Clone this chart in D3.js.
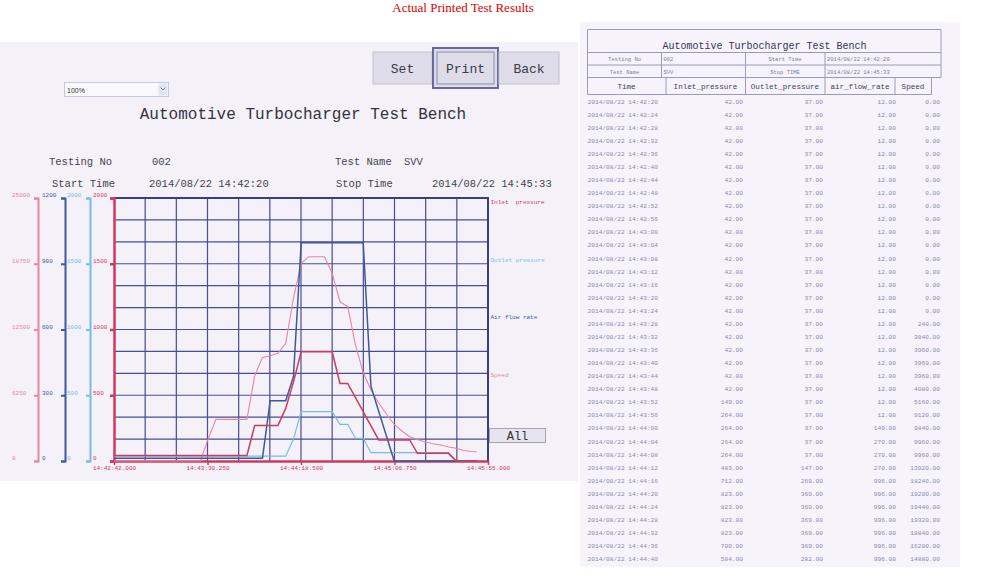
<!DOCTYPE html>
<html lang="en">

<head>
    <meta charset="UTF-8" />
    <title>Automotive Turbocharger Test Bench</title>
    <script src="https://cdn.jsdelivr.net/npm/d3@7"></script>
    <style>
        body { margin: 0; background: #fff; }
        svg { display: block; }
    </style>
</head>

<body>
<script>
    // ---- header info ----
    const testingNo = "002";
    const testName = "SVV";
    const startTime = "2014/08/22 14:42:20";
    const stopTime = "2014/08/22 14:45:33";

    // ---- printed table rows ----
    const rowTimes = ["14:42:20", "14:42:24", "14:42:28", "14:42:32", "14:42:36", "14:42:40", "14:42:44", "14:42:48",
        "14:42:52", "14:42:56", "14:43:00", "14:43:04", "14:43:08", "14:43:12", "14:43:16", "14:43:20", "14:43:24",
        "14:43:28", "14:43:32", "14:43:36", "14:43:40", "14:43:44", "14:43:48", "14:43:52", "14:43:56", "14:44:00",
        "14:44:04", "14:44:08", "14:44:12", "14:44:16", "14:44:20", "14:44:24", "14:44:28", "14:44:32", "14:44:36",
        "14:44:40"];
    const inletPressure = [42, 42, 42, 42, 42, 42, 42, 42, 42, 42, 42, 42, 42, 42, 42, 42, 42, 42, 42, 42, 42, 42, 42,
        149, 264, 264, 264, 264, 483, 712, 823, 823, 823, 823, 700, 584];
    const outletPressure = [37, 37, 37, 37, 37, 37, 37, 37, 37, 37, 37, 37, 37, 37, 37, 37, 37, 37, 37, 37, 37, 37, 37,
        37, 37, 37, 37, 37, 147, 269, 369, 369, 369, 369, 369, 282];
    const airFlowRate = [12, 12, 12, 12, 12, 12, 12, 12, 12, 12, 12, 12, 12, 12, 12, 12, 12, 12, 12, 12, 12, 12, 12, 12,
        12, 149, 270, 270, 270, 996, 996, 996, 996, 996, 996, 996];
    const speed = [0, 0, 0, 0, 0, 0, 0, 0, 0, 0, 0, 0, 0, 0, 0, 0, 0, 240, 3840, 3960, 3960, 3960, 4080, 5160, 9120,
        9840, 9960, 9960, 13920, 18240, 19200, 19440, 19320, 18840, 16200, 14880];

    // ---- screen chart traces: [seconds after 14:42:42, value] ----
    const inletTrace = [[0, 42], [68.6, 42], [72.6, 270], [84.6, 270], [88.6, 400], [92.6, 600], [96.6, 830],
        [112.6, 830], [116.6, 590], [120.6, 590], [136.6, 160], [152.6, 160], [156.6, 58], [172.6, 58], [176.6, 0],
        [187.2, 0]];
    const outletTrace = [[0, 37], [88.6, 37], [92.6, 167], [96.6, 375], [112.6, 375], [116.6, 279], [120.6, 279],
        [124.6, 173], [128.6, 173], [132.6, 63], [172.6, 63], [176.6, 0], [187.2, 0]];
    const airTrace = [[0, 12], [76.6, 12], [80.6, 275], [88.6, 275], [92.6, 385], [96.6, 996], [128.6, 996],
        [132.6, 340], [144.6, 0], [187.2, 0]];
    const speedTrace = [[0, 0], [44.6, 0], [48.6, 2100], [52.6, 3960], [68.6, 3960], [72.6, 8100], [76.6, 9850],
        [80.6, 10000], [84.6, 10240], [88.6, 11190], [92.6, 15470], [96.6, 18790], [100.6, 19420], [108.6, 19420],
        [112.6, 17840], [116.6, 15140], [120.6, 14670], [124.6, 11030], [128.6, 8410], [132.6, 6750], [136.6, 5510],
        [140.6, 4470], [144.6, 3470], [148.6, 2850], [152.6, 2310], [156.6, 2040], [160.6, 1810], [164.6, 1640],
        [168.6, 1520], [172.6, 1330], [176.6, 1210], [180.6, 1000], [184.6, 900], [187.2, 880]];

    // ---- axis ticks ----
    const xTickLabels = ["14:42:42.000", "14:43:30.250", "14:44:18.500", "14:45:06.750", "14:45:55.000"];
    const speedTicks = [0, 6250, 12500, 18750, 25000];
    const airTicks = [0, 300, 600, 900, 1200];
    const outletTicks = [0, 500, 1000, 1500, 2000];
    const inletTicks = [0, 500, 1000, 1500, 2000];

    const legendNames = ["Inlet  pressure", "Outlet pressure", "Air flow rate", "Speed"];

    const MONO = "'Liberation Mono', monospace";
    const col = {
        inlet: "#cf3a5c", outlet: "#74bde6", air: "#3d5a9e", speed: "#e686a0",
        grid: "#4a4c92", navy: "#3a3c88"
    };

    let w = 1000;
    let h = 584;

    let svg = d3.select("body").append("svg")
        .attr("width", w)
        .attr("height", h);

    // panels
    svg.append("rect").attr("x", 0).attr("y", 42).attr("width", 578).attr("height", 439).attr("fill", "#f4f1f9");
    svg.append("rect").attr("x", 580).attr("y", 22).attr("width", 380).attr("height", 545).attr("fill", "#f6f3fa");

    svg.append("text").attr("x", 463).attr("y", 12).attr("text-anchor", "middle")
        .attr("font-family", "'Liberation Serif', serif").attr("font-size", 13).attr("fill", "#e00000")
        .text("Actual Printed Test Results");

    // ---- buttons ----
    function button(label, x, y, bw, bh, active) {
        let g = svg.append("g");
        g.append("rect").attr("x", x).attr("y", y).attr("width", bw).attr("height", bh)
            .attr("fill", "#dedce8").attr("stroke", active ? "#6a6a9a" : "#c4c4d2").attr("stroke-width", active ? 2 : 1);
        if (active) {
            g.append("rect").attr("x", x + 4).attr("y", y + 4).attr("width", bw - 8).attr("height", bh - 8)
                .attr("fill", "none").attr("stroke", "#8a8ab0").attr("stroke-width", 1);
        }
        g.append("text").attr("x", x + bw / 2).attr("y", y + bh / 2 + 4.5).attr("text-anchor", "middle")
            .attr("font-family", MONO).attr("font-size", 13).attr("fill", "#3a3a4a").text(label);
    }
    button("Set", 373, 52, 59, 32, false);
    button("Print", 433, 48, 65, 40, true);
    button("Back", 499, 52, 60, 32, false);

    // zoom dropdown
    svg.append("rect").attr("x", 64.5).attr("y", 82.5).attr("width", 104).attr("height", 14)
        .attr("fill", "#f9f9fd").attr("stroke", "#c6cade");
    svg.append("rect").attr("x", 158.5).attr("y", 83.5).attr("width", 9).attr("height", 12).attr("fill", "#dfe5f1");
    svg.append("path").attr("d", "M160.5,87.5 L163,90 L165.5,87.5").attr("fill", "none").attr("stroke", "#7888a8");
    svg.append("text").attr("x", 67).attr("y", 92.5).attr("font-family", "Arial, sans-serif").attr("font-size", 7)
        .attr("fill", "#333").text("100%");

    svg.append("text").attr("x", 303).attr("y", 119).attr("text-anchor", "middle")
        .attr("font-family", MONO).attr("font-size", 16).attr("fill", "#333340")
        .text("Automotive Turbocharger Test Bench");

    let info = svg.append("g").attr("font-family", MONO).attr("font-size", 10.5).attr("fill", "#444450");
    info.append("text").attr("x", 49).attr("y", 164.5).text("Testing No");
    info.append("text").attr("x", 152).attr("y", 164.5).text(testingNo);
    info.append("text").attr("x", 335).attr("y", 164.5).text("Test Name");
    info.append("text").attr("x", 404).attr("y", 164.5).text(testName);
    info.append("text").attr("x", 52).attr("y", 187).text("Start Time");
    info.append("text").attr("x", 149).attr("y", 187).text(startTime);
    info.append("text").attr("x", 336).attr("y", 187).text("Stop Time");
    info.append("text").attr("x", 432).attr("y", 187).text(stopTime);

    // ---- chart ----
    let plot = { l: 114, r: 488, t: 198, b: 461 };
    let toSec = s => { let p = s.split(":").map(Number); return p[0] * 3600 + p[1] * 60 + p[2]; };
    let t0 = toSec(xTickLabels[0]);
    let xTickSecs = xTickLabels.map(s => toSec(s) - t0);

    let x = d3.scaleLinear().domain([0, xTickSecs[xTickSecs.length - 1]]).range([plot.l, plot.r]);
    let ySpeed = d3.scaleLinear().domain([0, 25000]).range([plot.b, plot.t]);
    let yAir = d3.scaleLinear().domain([0, 1200]).range([plot.b, plot.t]);
    let yOutlet = d3.scaleLinear().domain([0, 2000]).range([plot.b, plot.t]);
    let yInlet = d3.scaleLinear().domain([0, 2000]).range([plot.b, plot.t]);

    // grid 12 x 12
    let grid = svg.append("g").attr("stroke", col.grid).attr("stroke-width", 1.2);
    d3.range(1, 12).forEach(i => {
        let gx = plot.l + i * (plot.r - plot.l) / 12;
        let gy = plot.t + i * (plot.b - plot.t) / 12;
        grid.append("line").attr("x1", gx).attr("x2", gx).attr("y1", plot.t).attr("y2", plot.b);
        grid.append("line").attr("x1", plot.l).attr("x2", plot.r).attr("y1", gy).attr("y2", gy);
    });
    svg.append("line").attr("x1", plot.l).attr("x2", plot.r + 1).attr("y1", plot.t).attr("y2", plot.t)
        .attr("stroke", col.navy).attr("stroke-width", 2);
    svg.append("line").attr("x1", plot.r).attr("x2", plot.r).attr("y1", plot.t).attr("y2", plot.b)
        .attr("stroke", col.navy).attr("stroke-width", 2);

    // left axes
    function leftAxis(scale, ticks, xPos, color, labelDx, sw) {
        let g = svg.append("g").attr("transform", `translate(${xPos},0)`)
            .call(d3.axisLeft(scale).tickValues(ticks).tickSize(4).tickSizeOuter(4).tickFormat(d3.format("d")));
        g.attr("font-family", MONO).attr("font-size", 6);
        g.select(".domain").attr("stroke", color).attr("stroke-width", sw);
        g.selectAll(".tick line").attr("stroke", color).attr("stroke-width", sw);
        g.selectAll(".tick text").attr("x", labelDx).attr("y", -3).attr("text-anchor", "start").attr("fill", color);
    }
    leftAxis(ySpeed, speedTicks, 38, col.speed, -26, 2);
    leftAxis(yAir, airTicks, 65, col.air, -23, 2);
    leftAxis(yOutlet, outletTicks, 90, col.outlet, -23, 2);
    leftAxis(yInlet, inletTicks, plot.l, col.inlet, -21, 2.5);

    // x axis
    let xAxis = svg.append("g").attr("transform", `translate(0,${plot.b})`)
        .call(d3.axisBottom(x).tickValues(xTickSecs).tickSize(4).tickSizeOuter(0).tickPadding(1)
            .tickFormat((d, i) => xTickLabels[i]));
    xAxis.attr("font-family", MONO).attr("font-size", 6);
    xAxis.select(".domain").attr("stroke", col.inlet).attr("stroke-width", 2.5);
    xAxis.selectAll(".tick line").attr("stroke", col.inlet).attr("stroke-width", 1.5);
    xAxis.selectAll(".tick text").attr("fill", col.inlet);

    // series
    let series = [
        { data: speedTrace, y: ySpeed, color: col.speed, sw: 1.1 },
        { data: outletTrace, y: yOutlet, color: col.outlet, sw: 1.2 },
        { data: airTrace, y: yAir, color: col.air, sw: 1.5 },
        { data: inletTrace, y: yInlet, color: col.inlet, sw: 1.5 }
    ];
    series.forEach(s => {
        svg.append("path")
            .datum(s.data)
            .attr("fill", "none")
            .attr("stroke", s.color)
            .attr("stroke-width", s.sw)
            .attr("d", d3.line().x(d => x(d[0])).y(d => s.y(d[1])));
    });

    // legend
    let legendColors = [col.inlet, col.outlet, col.air, col.speed];
    let legendY = d3.scalePoint().domain(legendNames).range([204, 376.5]);
    svg.append("g").selectAll("text")
        .data(legendNames)
        .enter()
        .append("text")
        .attr("x", 490.5)
        .attr("y", d => legendY(d))
        .attr("font-family", MONO)
        .attr("font-size", 6)
        .style("white-space", "pre")
        .attr("fill", (d, i) => legendColors[i])
        .text(d => d);

    // All button
    svg.append("rect").attr("x", 489.5).attr("y", 428.5).attr("width", 56).attr("height", 14)
        .attr("fill", "#e6e4ee").attr("stroke", "#a4a4b4");
    svg.append("text").attr("x", 517.5).attr("y", 439.5).attr("text-anchor", "middle")
        .attr("font-family", MONO).attr("font-size", 12).attr("fill", "#333").text("All");

    // ---- printed table ----
    let tb = svg.append("g");
    let bc = "#9a9ac0";
    let tL = 587.5, tR = 941, hR = 931.5;
    let hline = (x1, x2, y) => tb.append("line").attr("x1", x1).attr("x2", x2).attr("y1", y).attr("y2", y)
        .attr("stroke", bc);
    let vline = (xv, y1, y2) => tb.append("line").attr("x1", xv).attr("x2", xv).attr("y1", y1).attr("y2", y2)
        .attr("stroke", bc);
    hline(tL, tR, 29.5);
    hline(tL, tR, 52.5);
    hline(tL, tR, 65);
    hline(tL, tR, 77.5);
    hline(tL, hR, 94.5);
    vline(tL, 29.5, 94.5);
    vline(tR, 29.5, 77.5);
    vline(hR, 77.5, 94.5);
    [661.5, 745.5, 825].forEach(v => vline(v, 52.5, 77.5));
    [666, 745.5, 825, 895].forEach(v => vline(v, 77.5, 94.5));

    tb.append("text").attr("x", 764.5).attr("y", 48.5).attr("text-anchor", "middle")
        .attr("font-family", MONO).attr("font-size", 10).attr("fill", "#33335a")
        .text("Automotive Turbocharger Test Bench");

    let small = (txt, xv, yv, anchor) => tb.append("text").attr("x", xv).attr("y", yv).attr("text-anchor", anchor)
        .attr("font-family", MONO).attr("font-size", 5.5).attr("fill", "#7c7cac").text(txt);
    small("Testing No", 624.5, 61, "middle");
    small(testingNo, 663.5, 61, "start");
    small("Start Time", 785, 61, "middle");
    small(startTime, 827, 61, "start");
    small("Test Name", 624.5, 73.5, "middle");
    small(testName, 663.5, 73.5, "start");
    small("Stop TIME", 785, 73.5, "middle");
    small(stopTime, 827, 73.5, "start");

    let headers = ["Time", "Inlet_pressure", "Outlet_pressure", "air_flow_rate", "Speed"];
    let hx = [626.5, 705.5, 785, 860, 913];
    tb.selectAll("text.hdr").data(headers).enter().append("text")
        .attr("class", "hdr")
        .attr("x", (d, i) => hx[i]).attr("y", 89)
        .attr("text-anchor", "middle")
        .attr("font-family", MONO).attr("font-size", 7.6).attr("fill", "#3c3c6a")
        .text(d => d);

    let rowY = d3.scalePoint().domain(rowTimes).range([101.7, 559.2]);
    let fmt = d3.format(".2f");
    let cols = [inletPressure, outletPressure, airFlowRate, speed];
    let colRight = [743, 823, 896, 940];
    let rows = tb.append("g").attr("font-family", MONO).attr("font-size", 6.2).attr("fill", "#8a8ab0");
    rowTimes.forEach((t, i) => {
        rows.append("text").attr("x", 587.5).attr("y", rowY(t) + 2).text("2014/08/22 " + t);
        cols.forEach((c, j) => {
            rows.append("text").attr("x", colRight[j]).attr("y", rowY(t) + 2).attr("text-anchor", "end")
                .text(fmt(c[i]));
        });
    });
</script>
</body>

</html>
